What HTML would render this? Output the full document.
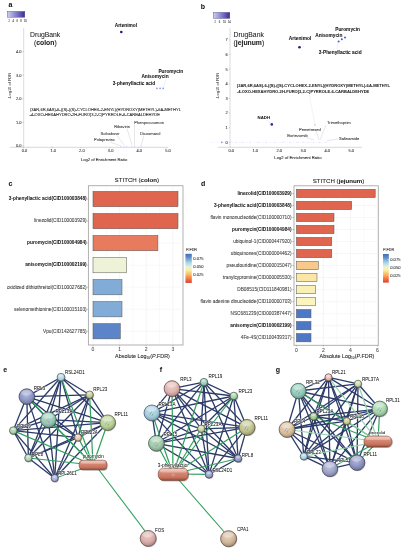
<!DOCTYPE html>
<html><head><meta charset="utf-8"><title>Figure</title>
<style>
html,body{margin:0;padding:0;background:#fff;}
svg{display:block;font-family:"Liberation Sans",sans-serif;}
</style></head><body>
<svg width="406" height="550" viewBox="0 0 406 550">
<defs>
<linearGradient id="cba" x1="0" y1="0" x2="1" y2="0"><stop offset="0" stop-color="#cfd0f2"/><stop offset="0.5" stop-color="#8480c8"/><stop offset="1" stop-color="#3a2c94"/></linearGradient>
<linearGradient id="rdylbu" x1="0" y1="0" x2="0" y2="1"><stop offset="0" stop-color="#4470b4"/><stop offset="0.12" stop-color="#5a8cc8"/><stop offset="0.3" stop-color="#a6d4ea"/><stop offset="0.45" stop-color="#e6f2dc"/><stop offset="0.56" stop-color="#fdf0a0"/><stop offset="0.72" stop-color="#fcb460"/><stop offset="0.88" stop-color="#f07040"/><stop offset="1" stop-color="#dc4030"/></linearGradient>
<radialGradient id="g1" cx="0.45" cy="0.35" r="0.7"><stop offset="0" stop-color="#cee4ed"/><stop offset="0.55" stop-color="#b4d6e4"/><stop offset="1" stop-color="#819aa4"/></radialGradient>
<radialGradient id="g2" cx="0.45" cy="0.35" r="0.7"><stop offset="0" stop-color="#b5bcdb"/><stop offset="0.55" stop-color="#8e98c8"/><stop offset="1" stop-color="#666d90"/></radialGradient>
<radialGradient id="g3" cx="0.45" cy="0.35" r="0.7"><stop offset="0" stop-color="#bcddd0"/><stop offset="0.55" stop-color="#98ccb8"/><stop offset="1" stop-color="#6d9284"/></radialGradient>
<radialGradient id="g4" cx="0.45" cy="0.35" r="0.7"><stop offset="0" stop-color="#c7e3c6"/><stop offset="0.55" stop-color="#aad4a8"/><stop offset="1" stop-color="#7a9878"/></radialGradient>
<radialGradient id="g5" cx="0.45" cy="0.35" r="0.7"><stop offset="0" stop-color="#cce5d2"/><stop offset="0.55" stop-color="#b2d8ba"/><stop offset="1" stop-color="#809b85"/></radialGradient>
<radialGradient id="g6" cx="0.45" cy="0.35" r="0.7"><stop offset="0" stop-color="#d9ddbd"/><stop offset="0.55" stop-color="#c6cc9a"/><stop offset="1" stop-color="#8e926e"/></radialGradient>
<radialGradient id="g7" cx="0.45" cy="0.35" r="0.7"><stop offset="0" stop-color="#d3e1bd"/><stop offset="0.55" stop-color="#bcd29a"/><stop offset="1" stop-color="#87976e"/></radialGradient>
<radialGradient id="g8" cx="0.45" cy="0.35" r="0.7"><stop offset="0" stop-color="#f0dbca"/><stop offset="0.55" stop-color="#e8c8ae"/><stop offset="1" stop-color="#a7907d"/></radialGradient>
<radialGradient id="g9" cx="0.45" cy="0.35" r="0.7"><stop offset="0" stop-color="#c7cbe6"/><stop offset="0.55" stop-color="#aab0da"/><stop offset="1" stop-color="#7a7e9c"/></radialGradient>
<linearGradient id="pill" x1="0" y1="0" x2="0" y2="1"><stop offset="0" stop-color="#efc2b4"/><stop offset="0.3" stop-color="#d98c78"/><stop offset="0.75" stop-color="#c8735e"/><stop offset="1" stop-color="#93503f"/></linearGradient>
<radialGradient id="g11" cx="0.45" cy="0.35" r="0.7"><stop offset="0" stop-color="#e8cac7"/><stop offset="0.55" stop-color="#dcaeaa"/><stop offset="1" stop-color="#9e7d7a"/></radialGradient>
<radialGradient id="g12" cx="0.45" cy="0.35" r="0.7"><stop offset="0" stop-color="#eccecb"/><stop offset="0.55" stop-color="#e2b4b0"/><stop offset="1" stop-color="#a2817e"/></radialGradient>
<radialGradient id="g13" cx="0.45" cy="0.35" r="0.7"><stop offset="0" stop-color="#c1ddd4"/><stop offset="0.55" stop-color="#a0ccbe"/><stop offset="1" stop-color="#739288"/></radialGradient>
<radialGradient id="g14" cx="0.45" cy="0.35" r="0.7"><stop offset="0" stop-color="#c5dfec"/><stop offset="0.55" stop-color="#a6cee2"/><stop offset="1" stop-color="#7794a2"/></radialGradient>
<radialGradient id="g15" cx="0.45" cy="0.35" r="0.7"><stop offset="0" stop-color="#c1ddc9"/><stop offset="0.55" stop-color="#a0ccac"/><stop offset="1" stop-color="#73927b"/></radialGradient>
<radialGradient id="g16" cx="0.45" cy="0.35" r="0.7"><stop offset="0" stop-color="#dbe3c3"/><stop offset="0.55" stop-color="#c8d4a4"/><stop offset="1" stop-color="#909876"/></radialGradient>
<radialGradient id="g17" cx="0.45" cy="0.35" r="0.7"><stop offset="0" stop-color="#c5e3c9"/><stop offset="0.55" stop-color="#a6d4ac"/><stop offset="1" stop-color="#77987b"/></radialGradient>
<radialGradient id="g18" cx="0.45" cy="0.35" r="0.7"><stop offset="0" stop-color="#d8d8b6"/><stop offset="0.55" stop-color="#c4c490"/><stop offset="1" stop-color="#8d8d67"/></radialGradient>
<radialGradient id="g19" cx="0.45" cy="0.35" r="0.7"><stop offset="0" stop-color="#babedc"/><stop offset="0.55" stop-color="#969cca"/><stop offset="1" stop-color="#6c7091"/></radialGradient>
<radialGradient id="g20" cx="0.45" cy="0.35" r="0.7"><stop offset="0" stop-color="#bfc3e1"/><stop offset="0.55" stop-color="#9ea4d2"/><stop offset="1" stop-color="#717697"/></radialGradient>
<radialGradient id="g21" cx="0.45" cy="0.35" r="0.7"><stop offset="0" stop-color="#e3d0be"/><stop offset="0.55" stop-color="#d4b89c"/><stop offset="1" stop-color="#988470"/></radialGradient>
<radialGradient id="g22" cx="0.45" cy="0.35" r="0.7"><stop offset="0" stop-color="#f1d2cc"/><stop offset="0.55" stop-color="#eabab2"/><stop offset="1" stop-color="#a88580"/></radialGradient>
<radialGradient id="g23" cx="0.45" cy="0.35" r="0.7"><stop offset="0" stop-color="#b8ddd4"/><stop offset="0.55" stop-color="#92ccbe"/><stop offset="1" stop-color="#699288"/></radialGradient>
<radialGradient id="g24" cx="0.45" cy="0.35" r="0.7"><stop offset="0" stop-color="#c5ddb8"/><stop offset="0.55" stop-color="#a6cc92"/><stop offset="1" stop-color="#779269"/></radialGradient>
<radialGradient id="g25" cx="0.45" cy="0.35" r="0.7"><stop offset="0" stop-color="#e8d6c1"/><stop offset="0.55" stop-color="#dcc0a0"/><stop offset="1" stop-color="#9e8a73"/></radialGradient>
<radialGradient id="g26" cx="0.45" cy="0.35" r="0.7"><stop offset="0" stop-color="#c9e4ed"/><stop offset="0.55" stop-color="#acd6e4"/><stop offset="1" stop-color="#7b9aa4"/></radialGradient>
<radialGradient id="g27" cx="0.45" cy="0.35" r="0.7"><stop offset="0" stop-color="#c1c5dd"/><stop offset="0.55" stop-color="#a0a6cc"/><stop offset="1" stop-color="#737792"/></radialGradient>
<radialGradient id="g28" cx="0.45" cy="0.35" r="0.7"><stop offset="0" stop-color="#dde6c7"/><stop offset="0.55" stop-color="#ccdaaa"/><stop offset="1" stop-color="#929c7a"/></radialGradient>
<radialGradient id="g29" cx="0.45" cy="0.35" r="0.7"><stop offset="0" stop-color="#c7e5cc"/><stop offset="0.55" stop-color="#aad8b2"/><stop offset="1" stop-color="#7a9b80"/></radialGradient>
<radialGradient id="g30" cx="0.45" cy="0.35" r="0.7"><stop offset="0" stop-color="#ddddb6"/><stop offset="0.55" stop-color="#cccc90"/><stop offset="1" stop-color="#929267"/></radialGradient>
<radialGradient id="g31" cx="0.45" cy="0.35" r="0.7"><stop offset="0" stop-color="#b6bad9"/><stop offset="0.55" stop-color="#9096c6"/><stop offset="1" stop-color="#676c8e"/></radialGradient>
</defs>
<rect width="406" height="550" fill="#fff"/>
<text x="8.6" y="6.8" font-size="7" font-weight="bold" text-anchor="start" fill="#111" stroke="#111" stroke-width="0.042">a</text>
<rect x="7.3" y="11.4" width="17.5" height="5.8" fill="url(#cba)" stroke="#4a4490" stroke-width="0.4"/>
<text x="9.2" y="22.2" font-size="2.7" font-weight="normal" text-anchor="middle" fill="#444" stroke="#444" stroke-width="0.07">2</text>
<text x="13.2" y="22.2" font-size="2.7" font-weight="normal" text-anchor="middle" fill="#444" stroke="#444" stroke-width="0.07">4</text>
<text x="17.2" y="22.2" font-size="2.7" font-weight="normal" text-anchor="middle" fill="#444" stroke="#444" stroke-width="0.07">6</text>
<text x="21" y="22.2" font-size="2.7" font-weight="normal" text-anchor="middle" fill="#444" stroke="#444" stroke-width="0.07">8</text>
<text x="25.2" y="22.2" font-size="2.7" font-weight="normal" text-anchor="middle" fill="#444" stroke="#444" stroke-width="0.07">10</text>
<line x1="23.7" y1="28" x2="23.7" y2="147.3" stroke="#c4c4c4" stroke-width="0.6"/>
<line x1="10" y1="147.3" x2="167.6" y2="147.3" stroke="#bdbdbd" stroke-width="0.6"/>
<text x="21.6" y="147.45" font-size="4.0" font-weight="normal" text-anchor="end" fill="#333" stroke="#333" stroke-width="0.07">0.0</text>
<line x1="22.3" y1="146.0" x2="23.7" y2="146.0" stroke="#999" stroke-width="0.4"/>
<text x="21.6" y="123.85000000000001" font-size="4.0" font-weight="normal" text-anchor="end" fill="#333" stroke="#333" stroke-width="0.07">1.0</text>
<line x1="22.3" y1="122.4" x2="23.7" y2="122.4" stroke="#999" stroke-width="0.4"/>
<text x="21.6" y="100.25" font-size="4.0" font-weight="normal" text-anchor="end" fill="#333" stroke="#333" stroke-width="0.07">2.0</text>
<line x1="22.3" y1="98.8" x2="23.7" y2="98.8" stroke="#999" stroke-width="0.4"/>
<text x="21.6" y="76.64999999999999" font-size="4.0" font-weight="normal" text-anchor="end" fill="#333" stroke="#333" stroke-width="0.07">3.0</text>
<line x1="22.3" y1="75.19999999999999" x2="23.7" y2="75.19999999999999" stroke="#999" stroke-width="0.4"/>
<text x="21.6" y="53.05" font-size="4.0" font-weight="normal" text-anchor="end" fill="#333" stroke="#333" stroke-width="0.07">4.0</text>
<line x1="22.3" y1="51.599999999999994" x2="23.7" y2="51.599999999999994" stroke="#999" stroke-width="0.4"/>
<text x="24.5" y="152.1" font-size="4.0" font-weight="normal" text-anchor="middle" fill="#333" stroke="#333" stroke-width="0.07">0.0</text>
<line x1="23.5" y1="147.3" x2="23.5" y2="148.4" stroke="#999" stroke-width="0.4"/>
<text x="53.2" y="152.1" font-size="4.0" font-weight="normal" text-anchor="middle" fill="#333" stroke="#333" stroke-width="0.07">1.0</text>
<line x1="52.2" y1="147.3" x2="52.2" y2="148.4" stroke="#999" stroke-width="0.4"/>
<text x="81.9" y="152.1" font-size="4.0" font-weight="normal" text-anchor="middle" fill="#333" stroke="#333" stroke-width="0.07">2.0</text>
<line x1="80.9" y1="147.3" x2="80.9" y2="148.4" stroke="#999" stroke-width="0.4"/>
<text x="110.6" y="152.1" font-size="4.0" font-weight="normal" text-anchor="middle" fill="#333" stroke="#333" stroke-width="0.07">3.0</text>
<line x1="109.6" y1="147.3" x2="109.6" y2="148.4" stroke="#999" stroke-width="0.4"/>
<text x="139.3" y="152.1" font-size="4.0" font-weight="normal" text-anchor="middle" fill="#333" stroke="#333" stroke-width="0.07">4.0</text>
<line x1="138.3" y1="147.3" x2="138.3" y2="148.4" stroke="#999" stroke-width="0.4"/>
<text x="168.0" y="152.1" font-size="4.0" font-weight="normal" text-anchor="middle" fill="#333" stroke="#333" stroke-width="0.07">5.0</text>
<line x1="167.0" y1="147.3" x2="167.0" y2="148.4" stroke="#999" stroke-width="0.4"/>
<text x="104.1" y="161.3" font-size="4.1" font-weight="normal" text-anchor="middle" fill="#222" stroke="#222" stroke-width="0.07">Log2 of Enrichment Ratio</text>
<text transform="translate(10.8,86) rotate(-90)" font-size="4.0" text-anchor="middle" fill="#222">-Log10 of FDR</text>
<text x="30" y="36.7" font-size="6.8" font-weight="normal" text-anchor="start" fill="#222" stroke="#222" stroke-width="0.07">DrugBank</text>
<text x="34" y="44.5" font-size="6.8" font-weight="normal" text-anchor="start" fill="#222" stroke="#222" stroke-width="0.07">(<tspan font-weight="bold">colon</tspan>)</text>
<text x="125.9" y="27.0" font-size="4.8" font-weight="bold" text-anchor="middle" fill="#111" stroke="#111" stroke-width="0.042">Artenimol</text>
<circle cx="121.3" cy="32" r="1.3" fill="#1d1a8c"/>
<text x="158.4" y="73" font-size="4.8" font-weight="bold" text-anchor="start" fill="#111" stroke="#111" stroke-width="0.042">Puromycin</text>
<text x="141.4" y="77.8" font-size="4.8" font-weight="bold" text-anchor="start" fill="#111" stroke="#111" stroke-width="0.042">Anisomycin</text>
<text x="112.7" y="85.1" font-size="4.75" font-weight="bold" text-anchor="start" fill="#111" stroke="#111" stroke-width="0.042">3-phenyllactic acid</text>
<circle cx="156.9" cy="88.4" r="0.8" fill="#7f8fe6"/>
<circle cx="160.1" cy="88.4" r="0.8" fill="#7f8fe6"/>
<circle cx="163.2" cy="88.4" r="0.8" fill="#7f8fe6"/>
<line x1="163.3" y1="88" x2="166" y2="79" stroke="#ccc" stroke-width="0.3"/>
<text x="30" y="111.0" font-size="4.07" font-weight="normal" text-anchor="start" fill="#222" stroke="#222" stroke-width="0.07">(3AR,6R,6AS)-6-((S)-((S)-CYCLOHEX-2-ENYL)(HYDROXY)METHYL)-6A-METHYL</text>
<text x="29.6" y="115.7" font-size="4.07" font-weight="normal" text-anchor="start" fill="#222" stroke="#222" stroke-width="0.07">-4-OXO-HEXAHYDRO-2H-FURO[3,2-C]PYRROLE-6-CARBALDEHYDE</text>
<text x="134.3" y="124.2" font-size="4.05" font-weight="normal" text-anchor="start" fill="#333" stroke="#333" stroke-width="0.07">Phenprocoumon</text>
<text x="114.3" y="127.5" font-size="4.05" font-weight="normal" text-anchor="start" fill="#333" stroke="#333" stroke-width="0.07">Ribavirin</text>
<text x="100.5" y="134.8" font-size="4.05" font-weight="normal" text-anchor="start" fill="#333" stroke="#333" stroke-width="0.07">Sofosbuvir</text>
<text x="140" y="134.6" font-size="4.05" font-weight="normal" text-anchor="start" fill="#333" stroke="#333" stroke-width="0.07">Dicoumarol</text>
<text x="94" y="141.1" font-size="4.05" font-weight="normal" text-anchor="start" fill="#333" stroke="#333" stroke-width="0.07">Polaprezinc</text>
<line x1="134.5" y1="124.5" x2="134.5" y2="146" stroke="#c2c2c2" stroke-width="0.4"/>
<line x1="127" y1="128.5" x2="132" y2="145" stroke="#c2c2c2" stroke-width="0.4"/>
<line x1="117" y1="135.5" x2="124" y2="145" stroke="#c2c2c2" stroke-width="0.4"/>
<line x1="144" y1="135.5" x2="141" y2="146" stroke="#c2c2c2" stroke-width="0.4"/>
<line x1="110" y1="142" x2="121" y2="146" stroke="#c2c2c2" stroke-width="0.4"/>
<circle cx="52" cy="146.2" r="0.5" fill="#c9cdf2"/>
<circle cx="121" cy="146.2" r="0.5" fill="#c9cdf2"/>
<circle cx="124" cy="146.2" r="0.5" fill="#c9cdf2"/>
<circle cx="126.5" cy="146.2" r="0.5" fill="#c9cdf2"/>
<circle cx="132" cy="146.2" r="0.5" fill="#c9cdf2"/>
<circle cx="134.5" cy="146.2" r="0.5" fill="#c9cdf2"/>
<circle cx="141" cy="146.2" r="0.5" fill="#c9cdf2"/>
<text x="200.8" y="8.8" font-size="7" font-weight="bold" text-anchor="start" fill="#111" stroke="#111" stroke-width="0.042">b</text>
<rect x="213.2" y="12.4" width="16.6" height="6.0" fill="url(#cba)" stroke="#4a4490" stroke-width="0.4"/>
<text x="215.2" y="23.3" font-size="2.7" font-weight="normal" text-anchor="middle" fill="#444" stroke="#444" stroke-width="0.07">2</text>
<text x="219.6" y="23.3" font-size="2.7" font-weight="normal" text-anchor="middle" fill="#444" stroke="#444" stroke-width="0.07">6</text>
<text x="224.4" y="23.3" font-size="2.7" font-weight="normal" text-anchor="middle" fill="#444" stroke="#444" stroke-width="0.07">10</text>
<text x="229.3" y="23.3" font-size="2.7" font-weight="normal" text-anchor="middle" fill="#444" stroke="#444" stroke-width="0.07">14</text>
<line x1="230" y1="28" x2="230" y2="147.3" stroke="#c4c4c4" stroke-width="0.6"/>
<line x1="218" y1="147.3" x2="362" y2="147.3" stroke="#bdbdbd" stroke-width="0.6"/>
<line x1="210" y1="142.4" x2="330" y2="142.4" stroke="#c8ccf0" stroke-width="0.4" stroke-dasharray="0.6 1.6"/>
<text x="227.8" y="143.75" font-size="4.0" font-weight="normal" text-anchor="end" fill="#333" stroke="#333" stroke-width="0.07">0</text>
<line x1="228.8" y1="142.3" x2="230" y2="142.3" stroke="#999" stroke-width="0.4"/>
<text x="227.8" y="129.12" font-size="4.0" font-weight="normal" text-anchor="end" fill="#333" stroke="#333" stroke-width="0.07">1</text>
<line x1="228.8" y1="127.67000000000002" x2="230" y2="127.67000000000002" stroke="#999" stroke-width="0.4"/>
<text x="227.8" y="114.49000000000001" font-size="4.0" font-weight="normal" text-anchor="end" fill="#333" stroke="#333" stroke-width="0.07">2</text>
<line x1="228.8" y1="113.04" x2="230" y2="113.04" stroke="#999" stroke-width="0.4"/>
<text x="227.8" y="99.86000000000001" font-size="4.0" font-weight="normal" text-anchor="end" fill="#333" stroke="#333" stroke-width="0.07">3</text>
<line x1="228.8" y1="98.41000000000001" x2="230" y2="98.41000000000001" stroke="#999" stroke-width="0.4"/>
<text x="227.8" y="85.23" font-size="4.0" font-weight="normal" text-anchor="end" fill="#333" stroke="#333" stroke-width="0.07">4</text>
<line x1="228.8" y1="83.78" x2="230" y2="83.78" stroke="#999" stroke-width="0.4"/>
<text x="227.8" y="70.60000000000001" font-size="4.0" font-weight="normal" text-anchor="end" fill="#333" stroke="#333" stroke-width="0.07">5</text>
<line x1="228.8" y1="69.15" x2="230" y2="69.15" stroke="#999" stroke-width="0.4"/>
<text x="227.8" y="55.97000000000001" font-size="4.0" font-weight="normal" text-anchor="end" fill="#333" stroke="#333" stroke-width="0.07">6</text>
<line x1="228.8" y1="54.52000000000001" x2="230" y2="54.52000000000001" stroke="#999" stroke-width="0.4"/>
<text x="227.8" y="41.34" font-size="4.0" font-weight="normal" text-anchor="end" fill="#333" stroke="#333" stroke-width="0.07">7</text>
<line x1="228.8" y1="39.89" x2="230" y2="39.89" stroke="#999" stroke-width="0.4"/>
<text x="231.3" y="151.75" font-size="4.0" font-weight="normal" text-anchor="middle" fill="#333" stroke="#333" stroke-width="0.07">0.0</text>
<text x="255.3" y="151.75" font-size="4.0" font-weight="normal" text-anchor="middle" fill="#333" stroke="#333" stroke-width="0.07">1.0</text>
<text x="279.3" y="151.75" font-size="4.0" font-weight="normal" text-anchor="middle" fill="#333" stroke="#333" stroke-width="0.07">2.0</text>
<text x="303.3" y="151.75" font-size="4.0" font-weight="normal" text-anchor="middle" fill="#333" stroke="#333" stroke-width="0.07">3.0</text>
<text x="327.3" y="151.75" font-size="4.0" font-weight="normal" text-anchor="middle" fill="#333" stroke="#333" stroke-width="0.07">4.0</text>
<text x="351.3" y="151.75" font-size="4.0" font-weight="normal" text-anchor="middle" fill="#333" stroke="#333" stroke-width="0.07">5.0</text>
<text x="298" y="158.8" font-size="4.2" font-weight="normal" text-anchor="middle" fill="#222" stroke="#222" stroke-width="0.07">Log2 of Enrichment Ratio</text>
<text transform="translate(219.2,86) rotate(-90)" font-size="4.0" text-anchor="middle" fill="#222">-Log10 of FDR</text>
<text x="233.6" y="36.8" font-size="6.8" font-weight="normal" text-anchor="start" fill="#222" stroke="#222" stroke-width="0.07">DrugBank</text>
<text x="233.6" y="44.9" font-size="6.8" font-weight="normal" text-anchor="start" fill="#222" stroke="#222" stroke-width="0.07">(<tspan font-weight="bold">jejunum</tspan>)</text>
<text x="300" y="40.3" font-size="4.8" font-weight="bold" text-anchor="middle" fill="#111" stroke="#111" stroke-width="0.042">Artenimol</text>
<circle cx="299.5" cy="47.2" r="1.3" fill="#1d1a8c"/>
<text x="335.2" y="31.1" font-size="4.8" font-weight="bold" text-anchor="start" fill="#111" stroke="#111" stroke-width="0.042">Puromycin</text>
<text x="315.2" y="36.9" font-size="4.8" font-weight="bold" text-anchor="start" fill="#111" stroke="#111" stroke-width="0.042">Anisomycin</text>
<text x="318.8" y="53.8" font-size="4.75" font-weight="bold" text-anchor="start" fill="#111" stroke="#111" stroke-width="0.042">3-Phenyllactic acid</text>
<circle cx="338.6" cy="41.4" r="1" fill="#4a56e0"/>
<circle cx="341.8" cy="39.2" r="1" fill="#4a56e0"/>
<circle cx="345" cy="37.5" r="1" fill="#4a56e0"/>
<line x1="338.3" y1="42" x2="337" y2="49" stroke="#ccc" stroke-width="0.3"/>
<text x="236.8" y="86.8" font-size="4.08" font-weight="bold" text-anchor="start" fill="#222" stroke="#222" stroke-width="0.042">(3AR,6R,6AS)-6-((S)-((S)-CYCLOHEX-2-ENYL)(HYDROXY)METHYL)-6A-METHYL</text>
<text x="236.8" y="92.7" font-size="4.08" font-weight="bold" text-anchor="start" fill="#222" stroke="#222" stroke-width="0.042">-4-OXO-HEXAHYDRO-2H-FURO[3,2-C]PYRROLE-6-CARBALDEHYDE</text>
<line x1="309" y1="94" x2="315" y2="124.5" stroke="#d6d6e6" stroke-width="0.3"/>
<text x="263.8" y="119.2" font-size="4.3" font-weight="bold" text-anchor="middle" fill="#111" stroke="#111" stroke-width="0.042">NADH</text>
<circle cx="271.8" cy="124.4" r="1.3" fill="#2a2aa8"/>
<line x1="266" y1="120" x2="271" y2="123.5" stroke="#ccc" stroke-width="0.3"/>
<text x="299" y="130.6" font-size="4.05" font-weight="normal" text-anchor="start" fill="#333" stroke="#333" stroke-width="0.07">Pemetrexed</text>
<text x="327" y="124.2" font-size="4.05" font-weight="normal" text-anchor="start" fill="#333" stroke="#333" stroke-width="0.07">Trimethoprim</text>
<text x="287.3" y="136.8" font-size="4.05" font-weight="normal" text-anchor="start" fill="#333" stroke="#333" stroke-width="0.07">Bortezomib</text>
<text x="339" y="139.8" font-size="4.05" font-weight="normal" text-anchor="start" fill="#333" stroke="#333" stroke-width="0.07">Safinamide</text>
<circle cx="315" cy="125" r="0.8" fill="#b8b8ec"/>
<circle cx="221.8" cy="142.4" r="0.8" fill="#8088dc"/>
<line x1="326" y1="125" x2="320" y2="140" stroke="#c2c2c2" stroke-width="0.4"/>
<line x1="316" y1="131" x2="319" y2="140" stroke="#c2c2c2" stroke-width="0.4"/>
<line x1="338" y1="139" x2="327" y2="140.5" stroke="#c2c2c2" stroke-width="0.4"/>
<line x1="306" y1="137.5" x2="314" y2="140" stroke="#c2c2c2" stroke-width="0.4"/>
<circle cx="236" cy="142.2" r="0.5" fill="#cdd0f4"/>
<circle cx="242" cy="142.2" r="0.5" fill="#cdd0f4"/>
<circle cx="250" cy="142.2" r="0.5" fill="#cdd0f4"/>
<circle cx="258" cy="142.2" r="0.5" fill="#cdd0f4"/>
<circle cx="266" cy="142.2" r="0.5" fill="#cdd0f4"/>
<circle cx="275" cy="142.2" r="0.5" fill="#cdd0f4"/>
<circle cx="283" cy="142.2" r="0.5" fill="#cdd0f4"/>
<circle cx="290" cy="142.2" r="0.5" fill="#cdd0f4"/>
<circle cx="297" cy="142.2" r="0.5" fill="#cdd0f4"/>
<circle cx="303" cy="142.2" r="0.5" fill="#cdd0f4"/>
<circle cx="308" cy="142.2" r="0.5" fill="#cdd0f4"/>
<circle cx="314" cy="142.2" r="0.5" fill="#cdd0f4"/>
<circle cx="319.6" cy="142.2" r="0.5" fill="#cdd0f4"/>
<circle cx="326" cy="142.2" r="0.5" fill="#cdd0f4"/>
<text x="8.5" y="186.3" font-size="7" font-weight="bold" text-anchor="start" fill="#111" stroke="#111" stroke-width="0.042">c</text>
<rect x="88.4" y="185.7" width="94.6" height="159.3" fill="#fff" stroke="#a8a8a8" stroke-width="0.9"/>
<line x1="93.0" y1="186.1" x2="93.0" y2="344.6" stroke="#ececec" stroke-width="0.5"/>
<line x1="106.3" y1="186.1" x2="106.3" y2="344.6" stroke="#ececec" stroke-width="0.3"/>
<line x1="119.6" y1="186.1" x2="119.6" y2="344.6" stroke="#ececec" stroke-width="0.5"/>
<line x1="132.9" y1="186.1" x2="132.9" y2="344.6" stroke="#ececec" stroke-width="0.3"/>
<line x1="146.2" y1="186.1" x2="146.2" y2="344.6" stroke="#ececec" stroke-width="0.5"/>
<line x1="159.5" y1="186.1" x2="159.5" y2="344.6" stroke="#ececec" stroke-width="0.3"/>
<line x1="172.8" y1="186.1" x2="172.8" y2="344.6" stroke="#ececec" stroke-width="0.5"/>
<text x="136.8" y="182.0" font-size="6.15" font-weight="normal" text-anchor="middle" fill="#222" stroke="#222" stroke-width="0.07">STITCH (<tspan font-weight="bold">colon</tspan>)</text>
<line x1="93" y1="199.1" x2="183" y2="199.1" stroke="#ececec" stroke-width="0.4"/>
<line x1="93" y1="221.13" x2="183" y2="221.13" stroke="#ececec" stroke-width="0.4"/>
<line x1="93" y1="243.16" x2="183" y2="243.16" stroke="#ececec" stroke-width="0.4"/>
<line x1="93" y1="265.19" x2="183" y2="265.19" stroke="#ececec" stroke-width="0.4"/>
<line x1="93" y1="287.21999999999997" x2="183" y2="287.21999999999997" stroke="#ececec" stroke-width="0.4"/>
<line x1="93" y1="309.25" x2="183" y2="309.25" stroke="#ececec" stroke-width="0.4"/>
<line x1="93" y1="331.28000000000003" x2="183" y2="331.28000000000003" stroke="#ececec" stroke-width="0.4"/>
<rect x="93" y="191.4" width="85" height="15.3" fill="#e0654e" stroke="#555" stroke-width="0.5"/>
<line x1="87.2" y1="199.1" x2="88.4" y2="199.1" stroke="#666" stroke-width="0.4"/>
<text x="86.7" y="200.4" font-size="4.77" font-weight="bold" text-anchor="end" fill="#1a1a1a" stroke="#1a1a1a" stroke-width="0.042">3-phenyllactic acid(CID100003848)</text>
<rect x="93" y="213.43" width="85" height="15.3" fill="#e0654e" stroke="#555" stroke-width="0.5"/>
<line x1="87.2" y1="221.13" x2="88.4" y2="221.13" stroke="#666" stroke-width="0.4"/>
<text x="86.7" y="222.43" font-size="4.77" font-weight="normal" text-anchor="end" fill="#404040" stroke="#404040" stroke-width="0.07">linezolid(CID100003929)</text>
<rect x="93" y="235.46" width="64.9" height="15.3" fill="#e87a5e" stroke="#555" stroke-width="0.5"/>
<line x1="87.2" y1="243.16" x2="88.4" y2="243.16" stroke="#666" stroke-width="0.4"/>
<text x="86.7" y="244.46" font-size="4.77" font-weight="bold" text-anchor="end" fill="#1a1a1a" stroke="#1a1a1a" stroke-width="0.042">puromycin(CID100004984)</text>
<rect x="93" y="257.49" width="33.599999999999994" height="15.3" fill="#eef2d6" stroke="#555" stroke-width="0.5"/>
<line x1="87.2" y1="265.19" x2="88.4" y2="265.19" stroke="#666" stroke-width="0.4"/>
<text x="86.7" y="266.49" font-size="4.77" font-weight="bold" text-anchor="end" fill="#1a1a1a" stroke="#1a1a1a" stroke-width="0.042">anisomycin(CID100002199)</text>
<rect x="93" y="279.52" width="29" height="15.3" fill="#82acd8" stroke="#555" stroke-width="0.5"/>
<line x1="87.2" y1="287.21999999999997" x2="88.4" y2="287.21999999999997" stroke="#666" stroke-width="0.4"/>
<text x="86.7" y="288.52" font-size="4.77" font-weight="normal" text-anchor="end" fill="#404040" stroke="#404040" stroke-width="0.07">oxidized dithiothreitol(CID100027682)</text>
<rect x="93" y="301.55" width="29" height="15.3" fill="#82acd8" stroke="#555" stroke-width="0.5"/>
<line x1="87.2" y1="309.25" x2="88.4" y2="309.25" stroke="#666" stroke-width="0.4"/>
<text x="86.7" y="310.55" font-size="4.77" font-weight="normal" text-anchor="end" fill="#404040" stroke="#404040" stroke-width="0.07">selenomethionine(CID100015103)</text>
<rect x="93" y="323.58000000000004" width="27.299999999999997" height="15.3" fill="#5c84c8" stroke="#555" stroke-width="0.5"/>
<line x1="87.2" y1="331.28000000000003" x2="88.4" y2="331.28000000000003" stroke="#666" stroke-width="0.4"/>
<text x="86.7" y="332.58000000000004" font-size="4.77" font-weight="normal" text-anchor="end" fill="#404040" stroke="#404040" stroke-width="0.07">Vpu(CID142627785)</text>
<line x1="93.0" y1="345" x2="93.0" y2="346.2" stroke="#666" stroke-width="0.4"/>
<text x="93.0" y="351.4" font-size="5.0" font-weight="normal" text-anchor="middle" fill="#4d4d4d" stroke="#4d4d4d" stroke-width="0.07">0</text>
<line x1="119.6" y1="345" x2="119.6" y2="346.2" stroke="#666" stroke-width="0.4"/>
<text x="119.6" y="351.4" font-size="5.0" font-weight="normal" text-anchor="middle" fill="#4d4d4d" stroke="#4d4d4d" stroke-width="0.07">1</text>
<line x1="146.2" y1="345" x2="146.2" y2="346.2" stroke="#666" stroke-width="0.4"/>
<text x="146.2" y="351.4" font-size="5.0" font-weight="normal" text-anchor="middle" fill="#4d4d4d" stroke="#4d4d4d" stroke-width="0.07">2</text>
<line x1="172.8" y1="345" x2="172.8" y2="346.2" stroke="#666" stroke-width="0.4"/>
<text x="172.8" y="351.4" font-size="5.0" font-weight="normal" text-anchor="middle" fill="#4d4d4d" stroke="#4d4d4d" stroke-width="0.07">3</text>
<text x="142.5" y="357.6" font-size="5.4" font-weight="normal" text-anchor="middle" fill="#222" stroke="#222" stroke-width="0.07">Absolute Log<tspan font-size="3.2" dy="1">10</tspan><tspan dy="-1">(</tspan><tspan font-style="italic">P</tspan>.FDR)</text>
<rect x="185.4" y="253.8" width="6.400000000000006" height="29.099999999999966" fill="url(#rdylbu)"/>
<text x="185.9" y="251.0" font-size="3.7" font-weight="normal" text-anchor="start" fill="#222" stroke="#222" stroke-width="0.07"><tspan font-style="italic">P</tspan>.FDR</text>
<text x="193.3" y="259.65" font-size="4.1" font-weight="normal" text-anchor="start" fill="#333" stroke="#333" stroke-width="0.07">0.075</text>
<line x1="185.4" y1="258.2" x2="186.6" y2="258.2" stroke="#fff" stroke-width="0.3"/>
<line x1="190.60000000000002" y1="258.2" x2="191.8" y2="258.2" stroke="#fff" stroke-width="0.3"/>
<text x="193.3" y="267.84999999999997" font-size="4.1" font-weight="normal" text-anchor="start" fill="#333" stroke="#333" stroke-width="0.07">0.050</text>
<line x1="185.4" y1="266.4" x2="186.6" y2="266.4" stroke="#fff" stroke-width="0.3"/>
<line x1="190.60000000000002" y1="266.4" x2="191.8" y2="266.4" stroke="#fff" stroke-width="0.3"/>
<text x="193.3" y="275.95" font-size="4.1" font-weight="normal" text-anchor="start" fill="#333" stroke="#333" stroke-width="0.07">0.025</text>
<line x1="185.4" y1="274.5" x2="186.6" y2="274.5" stroke="#fff" stroke-width="0.3"/>
<line x1="190.60000000000002" y1="274.5" x2="191.8" y2="274.5" stroke="#fff" stroke-width="0.3"/>
<text x="201.1" y="186.2" font-size="7" font-weight="bold" text-anchor="start" fill="#111" stroke="#111" stroke-width="0.042">d</text>
<rect x="294" y="185.8" width="84.30000000000001" height="159.5" fill="#fff" stroke="#a8a8a8" stroke-width="0.9"/>
<line x1="296.4" y1="186.20000000000002" x2="296.4" y2="344.90000000000003" stroke="#ececec" stroke-width="0.5"/>
<line x1="309.9" y1="186.20000000000002" x2="309.9" y2="344.90000000000003" stroke="#ececec" stroke-width="0.3"/>
<line x1="323.4" y1="186.20000000000002" x2="323.4" y2="344.90000000000003" stroke="#ececec" stroke-width="0.5"/>
<line x1="336.9" y1="186.20000000000002" x2="336.9" y2="344.90000000000003" stroke="#ececec" stroke-width="0.3"/>
<line x1="350.4" y1="186.20000000000002" x2="350.4" y2="344.90000000000003" stroke="#ececec" stroke-width="0.5"/>
<line x1="363.9" y1="186.20000000000002" x2="363.9" y2="344.90000000000003" stroke="#ececec" stroke-width="0.3"/>
<line x1="377.4" y1="186.20000000000002" x2="377.4" y2="344.90000000000003" stroke="#ececec" stroke-width="0.5"/>
<text x="338.5" y="182.6" font-size="6.15" font-weight="normal" text-anchor="middle" fill="#222" stroke="#222" stroke-width="0.07">STITCH (<tspan font-weight="bold">jejunum</tspan>)</text>
<line x1="296.4" y1="193.45000000000002" x2="378.3" y2="193.45000000000002" stroke="#ececec" stroke-width="0.4"/>
<line x1="296.4" y1="205.47000000000003" x2="378.3" y2="205.47000000000003" stroke="#ececec" stroke-width="0.4"/>
<line x1="296.4" y1="217.49" x2="378.3" y2="217.49" stroke="#ececec" stroke-width="0.4"/>
<line x1="296.4" y1="229.51000000000002" x2="378.3" y2="229.51000000000002" stroke="#ececec" stroke-width="0.4"/>
<line x1="296.4" y1="241.53" x2="378.3" y2="241.53" stroke="#ececec" stroke-width="0.4"/>
<line x1="296.4" y1="253.55" x2="378.3" y2="253.55" stroke="#ececec" stroke-width="0.4"/>
<line x1="296.4" y1="265.57" x2="378.3" y2="265.57" stroke="#ececec" stroke-width="0.4"/>
<line x1="296.4" y1="277.59" x2="378.3" y2="277.59" stroke="#ececec" stroke-width="0.4"/>
<line x1="296.4" y1="289.61" x2="378.3" y2="289.61" stroke="#ececec" stroke-width="0.4"/>
<line x1="296.4" y1="301.63" x2="378.3" y2="301.63" stroke="#ececec" stroke-width="0.4"/>
<line x1="296.4" y1="313.65" x2="378.3" y2="313.65" stroke="#ececec" stroke-width="0.4"/>
<line x1="296.4" y1="325.66999999999996" x2="378.3" y2="325.66999999999996" stroke="#ececec" stroke-width="0.4"/>
<line x1="296.4" y1="337.69" x2="378.3" y2="337.69" stroke="#ececec" stroke-width="0.4"/>
<rect x="296.4" y="189.3" width="78.80000000000001" height="8.3" fill="#e0654e" stroke="#555" stroke-width="0.5"/>
<line x1="292.4" y1="193.45000000000002" x2="294" y2="193.45000000000002" stroke="#666" stroke-width="0.4"/>
<text x="291.5" y="195.0" font-size="4.75" font-weight="bold" text-anchor="end" fill="#1a1a1a" stroke="#1a1a1a" stroke-width="0.042">linezolid(CID100003929)</text>
<rect x="296.4" y="201.32000000000002" width="55.30000000000001" height="8.3" fill="#e0654e" stroke="#555" stroke-width="0.5"/>
<line x1="292.4" y1="205.47000000000003" x2="294" y2="205.47000000000003" stroke="#666" stroke-width="0.4"/>
<text x="291.5" y="207.02" font-size="4.75" font-weight="bold" text-anchor="end" fill="#1a1a1a" stroke="#1a1a1a" stroke-width="0.042">3-phenyllactic acid(CID100003848)</text>
<rect x="296.4" y="213.34" width="37.60000000000002" height="8.3" fill="#e0654e" stroke="#555" stroke-width="0.5"/>
<line x1="292.4" y1="217.49" x2="294" y2="217.49" stroke="#666" stroke-width="0.4"/>
<text x="291.5" y="219.04" font-size="4.75" font-weight="normal" text-anchor="end" fill="#404040" stroke="#404040" stroke-width="0.07">flavin mononucleotide(CID100000710)</text>
<rect x="296.4" y="225.36" width="37.60000000000002" height="8.3" fill="#e0654e" stroke="#555" stroke-width="0.5"/>
<line x1="292.4" y1="229.51000000000002" x2="294" y2="229.51000000000002" stroke="#666" stroke-width="0.4"/>
<text x="291.5" y="231.06" font-size="4.75" font-weight="bold" text-anchor="end" fill="#1a1a1a" stroke="#1a1a1a" stroke-width="0.042">puromycin(CID100004984)</text>
<rect x="296.4" y="237.38" width="35.400000000000034" height="8.3" fill="#e0654e" stroke="#555" stroke-width="0.5"/>
<line x1="292.4" y1="241.53" x2="294" y2="241.53" stroke="#666" stroke-width="0.4"/>
<text x="291.5" y="243.07999999999998" font-size="4.75" font-weight="normal" text-anchor="end" fill="#404040" stroke="#404040" stroke-width="0.07">ubiquinol-1(CID000447920)</text>
<rect x="296.4" y="249.4" width="35.400000000000034" height="8.3" fill="#e0654e" stroke="#555" stroke-width="0.5"/>
<line x1="292.4" y1="253.55" x2="294" y2="253.55" stroke="#666" stroke-width="0.4"/>
<text x="291.5" y="255.1" font-size="4.75" font-weight="normal" text-anchor="end" fill="#404040" stroke="#404040" stroke-width="0.07">ubiquinones(CID000004462)</text>
<rect x="296.4" y="261.42" width="21.900000000000034" height="8.3" fill="#f9c98a" stroke="#555" stroke-width="0.5"/>
<line x1="292.4" y1="265.57" x2="294" y2="265.57" stroke="#666" stroke-width="0.4"/>
<text x="291.5" y="267.12" font-size="4.75" font-weight="normal" text-anchor="end" fill="#404040" stroke="#404040" stroke-width="0.07">pseudouridine(CID000015047)</text>
<rect x="296.4" y="273.44" width="20.600000000000023" height="8.3" fill="#fbe6a6" stroke="#555" stroke-width="0.5"/>
<line x1="292.4" y1="277.59" x2="294" y2="277.59" stroke="#666" stroke-width="0.4"/>
<text x="291.5" y="279.14" font-size="4.75" font-weight="normal" text-anchor="end" fill="#404040" stroke="#404040" stroke-width="0.07">tranylcypromine(CID000005530)</text>
<rect x="296.4" y="285.46000000000004" width="19.30000000000001" height="8.3" fill="#fbf0b4" stroke="#555" stroke-width="0.5"/>
<line x1="292.4" y1="289.61" x2="294" y2="289.61" stroke="#666" stroke-width="0.4"/>
<text x="291.5" y="291.16" font-size="4.75" font-weight="normal" text-anchor="end" fill="#404040" stroke="#404040" stroke-width="0.07">DB08515(CID111840981)</text>
<rect x="296.4" y="297.48" width="19.30000000000001" height="8.3" fill="#fbf4bc" stroke="#555" stroke-width="0.5"/>
<line x1="292.4" y1="301.63" x2="294" y2="301.63" stroke="#666" stroke-width="0.4"/>
<text x="291.5" y="303.18" font-size="4.75" font-weight="normal" text-anchor="end" fill="#404040" stroke="#404040" stroke-width="0.07">flavin adenine dinucleotide(CID100000703)</text>
<rect x="296.4" y="309.5" width="14.600000000000023" height="8.3" fill="#4d78c4" stroke="#555" stroke-width="0.5"/>
<line x1="292.4" y1="313.65" x2="294" y2="313.65" stroke="#666" stroke-width="0.4"/>
<text x="291.5" y="315.2" font-size="4.75" font-weight="normal" text-anchor="end" fill="#404040" stroke="#404040" stroke-width="0.07">NSC681239(CID000387447)</text>
<rect x="296.4" y="321.52" width="14.600000000000023" height="8.3" fill="#4d78c4" stroke="#555" stroke-width="0.5"/>
<line x1="292.4" y1="325.66999999999996" x2="294" y2="325.66999999999996" stroke="#666" stroke-width="0.4"/>
<text x="291.5" y="327.21999999999997" font-size="4.75" font-weight="bold" text-anchor="end" fill="#1a1a1a" stroke="#1a1a1a" stroke-width="0.042">anisomycin(CID100002199)</text>
<rect x="296.4" y="333.54" width="14.600000000000023" height="8.3" fill="#4d78c4" stroke="#555" stroke-width="0.5"/>
<line x1="292.4" y1="337.69" x2="294" y2="337.69" stroke="#666" stroke-width="0.4"/>
<text x="291.5" y="339.24" font-size="4.75" font-weight="normal" text-anchor="end" fill="#404040" stroke="#404040" stroke-width="0.07">4Fe-4S(CID100439317)</text>
<line x1="296.4" y1="345.3" x2="296.4" y2="346.5" stroke="#666" stroke-width="0.4"/>
<text x="296.4" y="351.8" font-size="5.0" font-weight="normal" text-anchor="middle" fill="#4d4d4d" stroke="#4d4d4d" stroke-width="0.07">0</text>
<line x1="323.4" y1="345.3" x2="323.4" y2="346.5" stroke="#666" stroke-width="0.4"/>
<text x="323.4" y="351.8" font-size="5.0" font-weight="normal" text-anchor="middle" fill="#4d4d4d" stroke="#4d4d4d" stroke-width="0.07">2</text>
<line x1="350.4" y1="345.3" x2="350.4" y2="346.5" stroke="#666" stroke-width="0.4"/>
<text x="350.4" y="351.8" font-size="5.0" font-weight="normal" text-anchor="middle" fill="#4d4d4d" stroke="#4d4d4d" stroke-width="0.07">4</text>
<line x1="377.4" y1="345.3" x2="377.4" y2="346.5" stroke="#666" stroke-width="0.4"/>
<text x="377.4" y="351.8" font-size="5.0" font-weight="normal" text-anchor="middle" fill="#4d4d4d" stroke="#4d4d4d" stroke-width="0.07">6</text>
<text x="347" y="358.3" font-size="5.4" font-weight="normal" text-anchor="middle" fill="#222" stroke="#222" stroke-width="0.07">Absolute Log<tspan font-size="3.2" dy="1">10</tspan><tspan dy="-1">(</tspan><tspan font-style="italic">P</tspan>.FDR)</text>
<rect x="383" y="254" width="5.800000000000011" height="28.600000000000023" fill="url(#rdylbu)"/>
<text x="383" y="251" font-size="3.7" font-weight="normal" text-anchor="start" fill="#222" stroke="#222" stroke-width="0.07"><tspan font-style="italic">P</tspan>.FDR</text>
<text x="390.2" y="261.15" font-size="4.1" font-weight="normal" text-anchor="start" fill="#333" stroke="#333" stroke-width="0.07">0.075</text>
<line x1="383" y1="259.7" x2="384.2" y2="259.7" stroke="#fff" stroke-width="0.3"/>
<line x1="387.6" y1="259.7" x2="388.8" y2="259.7" stroke="#fff" stroke-width="0.3"/>
<text x="390.2" y="268.95" font-size="4.1" font-weight="normal" text-anchor="start" fill="#333" stroke="#333" stroke-width="0.07">0.050</text>
<line x1="383" y1="267.5" x2="384.2" y2="267.5" stroke="#fff" stroke-width="0.3"/>
<line x1="387.6" y1="267.5" x2="388.8" y2="267.5" stroke="#fff" stroke-width="0.3"/>
<text x="390.2" y="276.75" font-size="4.1" font-weight="normal" text-anchor="start" fill="#333" stroke="#333" stroke-width="0.07">0.025</text>
<line x1="383" y1="275.3" x2="384.2" y2="275.3" stroke="#fff" stroke-width="0.3"/>
<line x1="387.6" y1="275.3" x2="388.8" y2="275.3" stroke="#fff" stroke-width="0.3"/>
<text x="3.2" y="372" font-size="7" font-weight="bold" text-anchor="start" fill="#111" stroke="#111" stroke-width="0.042">e</text>
<line x1="98.3" y1="469" x2="148" y2="535" stroke="#30a05e" stroke-width="1.1" opacity="1"/>
<line x1="61" y1="377.3" x2="26.8" y2="396.6" stroke="#2b3a68" stroke-width="1.3" opacity="1"/>
<line x1="61" y1="377.3" x2="48.4" y2="419.7" stroke="#2b3a68" stroke-width="1.3" opacity="1"/>
<line x1="61" y1="377.3" x2="13.3" y2="430.6" stroke="#2b3a68" stroke-width="1.3" opacity="1"/>
<line x1="61" y1="377.3" x2="28.4" y2="458" stroke="#2b3a68" stroke-width="1.3" opacity="1"/>
<line x1="61" y1="377.3" x2="89.6" y2="394.8" stroke="#2b3a68" stroke-width="1.3" opacity="1"/>
<line x1="61" y1="377.3" x2="107.7" y2="422.7" stroke="#2b3a68" stroke-width="1.3" opacity="1"/>
<line x1="61" y1="377.3" x2="78" y2="437.6" stroke="#2b3a68" stroke-width="1.3" opacity="1"/>
<line x1="61" y1="377.3" x2="54.7" y2="478.2" stroke="#2b3a68" stroke-width="1.3" opacity="1"/>
<line x1="26.8" y1="396.6" x2="48.4" y2="419.7" stroke="#2b3a68" stroke-width="1.3" opacity="1"/>
<line x1="26.8" y1="396.6" x2="13.3" y2="430.6" stroke="#2b3a68" stroke-width="1.3" opacity="1"/>
<line x1="26.8" y1="396.6" x2="28.4" y2="458" stroke="#2b3a68" stroke-width="1.3" opacity="1"/>
<line x1="26.8" y1="396.6" x2="89.6" y2="394.8" stroke="#2b3a68" stroke-width="1.3" opacity="1"/>
<line x1="26.8" y1="396.6" x2="107.7" y2="422.7" stroke="#2b3a68" stroke-width="1.3" opacity="1"/>
<line x1="26.8" y1="396.6" x2="78" y2="437.6" stroke="#2b3a68" stroke-width="1.3" opacity="1"/>
<line x1="26.8" y1="396.6" x2="54.7" y2="478.2" stroke="#2b3a68" stroke-width="1.3" opacity="1"/>
<line x1="48.4" y1="419.7" x2="13.3" y2="430.6" stroke="#2b3a68" stroke-width="1.3" opacity="1"/>
<line x1="48.4" y1="419.7" x2="28.4" y2="458" stroke="#2b3a68" stroke-width="1.3" opacity="1"/>
<line x1="48.4" y1="419.7" x2="89.6" y2="394.8" stroke="#2b3a68" stroke-width="1.3" opacity="1"/>
<line x1="48.4" y1="419.7" x2="107.7" y2="422.7" stroke="#2b3a68" stroke-width="1.3" opacity="1"/>
<line x1="48.4" y1="419.7" x2="78" y2="437.6" stroke="#2b3a68" stroke-width="1.3" opacity="1"/>
<line x1="48.4" y1="419.7" x2="54.7" y2="478.2" stroke="#2b3a68" stroke-width="1.3" opacity="1"/>
<line x1="13.3" y1="430.6" x2="28.4" y2="458" stroke="#2b3a68" stroke-width="1.3" opacity="1"/>
<line x1="13.3" y1="430.6" x2="89.6" y2="394.8" stroke="#2b3a68" stroke-width="1.3" opacity="1"/>
<line x1="13.3" y1="430.6" x2="107.7" y2="422.7" stroke="#2b3a68" stroke-width="1.3" opacity="1"/>
<line x1="13.3" y1="430.6" x2="78" y2="437.6" stroke="#2b3a68" stroke-width="1.3" opacity="1"/>
<line x1="13.3" y1="430.6" x2="54.7" y2="478.2" stroke="#2b3a68" stroke-width="1.3" opacity="1"/>
<line x1="28.4" y1="458" x2="89.6" y2="394.8" stroke="#2b3a68" stroke-width="1.3" opacity="1"/>
<line x1="28.4" y1="458" x2="107.7" y2="422.7" stroke="#2b3a68" stroke-width="1.3" opacity="1"/>
<line x1="28.4" y1="458" x2="78" y2="437.6" stroke="#2b3a68" stroke-width="1.3" opacity="1"/>
<line x1="28.4" y1="458" x2="54.7" y2="478.2" stroke="#2b3a68" stroke-width="1.3" opacity="1"/>
<line x1="89.6" y1="394.8" x2="107.7" y2="422.7" stroke="#2b3a68" stroke-width="1.3" opacity="1"/>
<line x1="89.6" y1="394.8" x2="78" y2="437.6" stroke="#2b3a68" stroke-width="1.3" opacity="1"/>
<line x1="89.6" y1="394.8" x2="54.7" y2="478.2" stroke="#2b3a68" stroke-width="1.3" opacity="1"/>
<line x1="107.7" y1="422.7" x2="78" y2="437.6" stroke="#2b3a68" stroke-width="1.3" opacity="1"/>
<line x1="107.7" y1="422.7" x2="54.7" y2="478.2" stroke="#2b3a68" stroke-width="1.3" opacity="1"/>
<line x1="78" y1="437.6" x2="54.7" y2="478.2" stroke="#2b3a68" stroke-width="1.3" opacity="1"/>
<line x1="61" y1="377.3" x2="93" y2="465" stroke="#30a05e" stroke-width="1.2" opacity="1"/>
<line x1="26.8" y1="396.6" x2="93" y2="465" stroke="#30a05e" stroke-width="1.2" opacity="1"/>
<line x1="48.4" y1="419.7" x2="93" y2="465" stroke="#30a05e" stroke-width="1.2" opacity="1"/>
<line x1="13.3" y1="430.6" x2="93" y2="465" stroke="#30a05e" stroke-width="1.2" opacity="1"/>
<line x1="28.4" y1="458" x2="93" y2="465" stroke="#30a05e" stroke-width="1.2" opacity="1"/>
<line x1="89.6" y1="394.8" x2="93" y2="465" stroke="#30a05e" stroke-width="1.2" opacity="1"/>
<line x1="107.7" y1="422.7" x2="93" y2="465" stroke="#30a05e" stroke-width="1.2" opacity="1"/>
<line x1="78" y1="437.6" x2="93" y2="465" stroke="#30a05e" stroke-width="1.2" opacity="1"/>
<line x1="54.7" y1="478.2" x2="93" y2="465" stroke="#30a05e" stroke-width="1.2" opacity="1"/>
<circle cx="61.7" cy="378.2" r="3.9" fill="#000" opacity="0.22"/>
<circle cx="61" cy="377.3" r="3.9" fill="url(#g1)" stroke="#4b595f" stroke-width="0.75"/>
<ellipse cx="60.805" cy="375.428" rx="2.652" ry="1.404" fill="#fff" opacity="0.3"/>
<circle cx="27.5" cy="397.5" r="7.8" fill="#000" opacity="0.22"/>
<circle cx="26.8" cy="396.6" r="7.8" fill="url(#g2)" stroke="#3b3f54" stroke-width="0.75"/>
<ellipse cx="26.41" cy="392.856" rx="5.304" ry="2.808" fill="#fff" opacity="0.3"/>
<circle cx="49.1" cy="420.59999999999997" r="7.8" fill="#000" opacity="0.22"/>
<circle cx="48.4" cy="419.7" r="7.8" fill="url(#g3)" stroke="#3f554d" stroke-width="0.75"/>
<circle cx="46.9" cy="420.2" r="0.55" fill="#d05050" opacity="0.7"/>
<circle cx="49.199999999999996" cy="421.3" r="0.55" fill="#50a050" opacity="0.7"/>
<circle cx="50.199999999999996" cy="419.5" r="0.55" fill="#d0b040" opacity="0.7"/>
<circle cx="48.1" cy="418.7" r="0.55" fill="#5070c0" opacity="0.7"/>
<circle cx="48.6" cy="422.3" r="0.55" fill="#c06090" opacity="0.7"/>
<circle cx="46.199999999999996" cy="421.7" r="0.55" fill="#60b0a0" opacity="0.7"/>
<ellipse cx="48.01" cy="415.956" rx="5.304" ry="2.808" fill="#fff" opacity="0.3"/>
<circle cx="14.0" cy="431.5" r="3.8" fill="#000" opacity="0.22"/>
<circle cx="13.3" cy="430.6" r="3.8" fill="url(#g4)" stroke="#475946" stroke-width="0.75"/>
<ellipse cx="13.110000000000001" cy="428.776" rx="2.584" ry="1.3679999999999999" fill="#fff" opacity="0.3"/>
<circle cx="29.099999999999998" cy="458.9" r="3.7" fill="#000" opacity="0.22"/>
<circle cx="28.4" cy="458" r="3.7" fill="url(#g5)" stroke="#4a5a4e" stroke-width="0.75"/>
<ellipse cx="28.215" cy="456.224" rx="2.5160000000000005" ry="1.332" fill="#fff" opacity="0.3"/>
<circle cx="90.3" cy="395.7" r="3.8" fill="#000" opacity="0.22"/>
<circle cx="89.6" cy="394.8" r="3.8" fill="url(#g6)" stroke="#535540" stroke-width="0.75"/>
<ellipse cx="89.41" cy="392.976" rx="2.584" ry="1.3679999999999999" fill="#fff" opacity="0.3"/>
<circle cx="108.4" cy="423.59999999999997" r="7.8" fill="#000" opacity="0.22"/>
<circle cx="107.7" cy="422.7" r="7.8" fill="url(#g7)" stroke="#4e5840" stroke-width="0.75"/>
<circle cx="106.2" cy="423.2" r="0.55" fill="#d05050" opacity="0.7"/>
<circle cx="108.5" cy="424.3" r="0.55" fill="#50a050" opacity="0.7"/>
<circle cx="109.5" cy="422.5" r="0.55" fill="#d0b040" opacity="0.7"/>
<circle cx="107.4" cy="421.7" r="0.55" fill="#5070c0" opacity="0.7"/>
<circle cx="107.9" cy="425.3" r="0.55" fill="#c06090" opacity="0.7"/>
<circle cx="105.5" cy="424.7" r="0.55" fill="#60b0a0" opacity="0.7"/>
<ellipse cx="107.31" cy="418.956" rx="5.304" ry="2.808" fill="#fff" opacity="0.3"/>
<circle cx="78.7" cy="438.5" r="3.6" fill="#000" opacity="0.22"/>
<circle cx="78" cy="437.6" r="3.6" fill="url(#g8)" stroke="#615449" stroke-width="0.75"/>
<ellipse cx="77.82" cy="435.872" rx="2.4480000000000004" ry="1.296" fill="#fff" opacity="0.3"/>
<circle cx="55.400000000000006" cy="479.09999999999997" r="3.6" fill="#000" opacity="0.22"/>
<circle cx="54.7" cy="478.2" r="3.6" fill="url(#g9)" stroke="#47495b" stroke-width="0.75"/>
<ellipse cx="54.52" cy="476.472" rx="2.4480000000000004" ry="1.296" fill="#fff" opacity="0.3"/>
<rect x="79.9" y="461.3" width="27.700000000000003" height="9.5" rx="3.6" fill="#000" opacity="0.25"/>
<rect x="79.2" y="460.2" width="27.700000000000003" height="9.5" rx="3.6" fill="url(#pill)" stroke="#6e3a2e" stroke-width="0.55"/>
<rect x="80.8" y="460.9" width="24.500000000000004" height="2.85" rx="1.425" fill="#fff" opacity="0.32"/>
<circle cx="148.89999999999998" cy="539.3" r="8.0" fill="#000" opacity="0.22"/>
<circle cx="148.2" cy="538.4" r="8.0" fill="url(#g11)" stroke="#5c4947" stroke-width="0.75"/>
<ellipse cx="147.79999999999998" cy="534.56" rx="5.44" ry="2.88" fill="#fff" opacity="0.3"/>
<text x="65" y="374.03799999999995" font-size="4.55" font-weight="normal" text-anchor="start" fill="#000" stroke="#fff" stroke-width="0.9" paint-order="stroke" stroke-opacity="0.75" stroke-linejoin="round">RSL24D1</text>
<text x="33.8" y="389.738" font-size="4.55" font-weight="normal" text-anchor="start" fill="#000" stroke="#fff" stroke-width="0.9" paint-order="stroke" stroke-opacity="0.75" stroke-linejoin="round">RPL3</text>
<text x="55.5" y="412.83799999999997" font-size="4.55" font-weight="normal" text-anchor="start" fill="#000" stroke="#fff" stroke-width="0.9" paint-order="stroke" stroke-opacity="0.75" stroke-linejoin="round">RPL13A</text>
<text x="17" y="427.83799999999997" font-size="4.55" font-weight="normal" text-anchor="start" fill="#000" stroke="#fff" stroke-width="0.9" paint-order="stroke" stroke-opacity="0.75" stroke-linejoin="round">RPL19</text>
<text x="31.8" y="455.938" font-size="4.55" font-weight="normal" text-anchor="start" fill="#000" stroke="#fff" stroke-width="0.9" paint-order="stroke" stroke-opacity="0.75" stroke-linejoin="round">RPL8</text>
<text x="93.3" y="391.03799999999995" font-size="4.55" font-weight="normal" text-anchor="start" fill="#000" stroke="#fff" stroke-width="0.9" paint-order="stroke" stroke-opacity="0.75" stroke-linejoin="round">RPL23</text>
<text x="114.5" y="415.938" font-size="4.55" font-weight="normal" text-anchor="start" fill="#000" stroke="#fff" stroke-width="0.9" paint-order="stroke" stroke-opacity="0.75" stroke-linejoin="round">RPL11</text>
<text x="80.9" y="433.83799999999997" font-size="4.55" font-weight="normal" text-anchor="start" fill="#000" stroke="#fff" stroke-width="0.9" paint-order="stroke" stroke-opacity="0.75" stroke-linejoin="round">RPL23A</text>
<text x="57.9" y="475.03799999999995" font-size="4.55" font-weight="normal" text-anchor="start" fill="#000" stroke="#fff" stroke-width="0.9" paint-order="stroke" stroke-opacity="0.75" stroke-linejoin="round">RPL26L1</text>
<text x="93.3" y="458.238" font-size="4.55" font-weight="normal" text-anchor="middle" fill="#000" stroke="#fff" stroke-width="0.9" paint-order="stroke" stroke-opacity="0.75" stroke-linejoin="round">puromycin</text>
<text x="155" y="532.038" font-size="4.55" font-weight="normal" text-anchor="start" fill="#000" stroke="#fff" stroke-width="0.9" paint-order="stroke" stroke-opacity="0.75" stroke-linejoin="round">FOS</text>
<text x="159.7" y="372" font-size="7" font-weight="bold" text-anchor="start" fill="#111" stroke="#111" stroke-width="0.042">f</text>
<line x1="178" y1="479" x2="226" y2="534" stroke="#30a05e" stroke-width="1.1" opacity="1"/>
<line x1="172" y1="388.6" x2="203.9" y2="382.2" stroke="#2b3a68" stroke-width="1.3" opacity="1"/>
<line x1="172" y1="388.6" x2="151.9" y2="412.9" stroke="#2b3a68" stroke-width="1.3" opacity="1"/>
<line x1="172" y1="388.6" x2="156.4" y2="443.3" stroke="#2b3a68" stroke-width="1.3" opacity="1"/>
<line x1="172" y1="388.6" x2="201.2" y2="428.8" stroke="#2b3a68" stroke-width="1.3" opacity="1"/>
<line x1="172" y1="388.6" x2="233.8" y2="396" stroke="#2b3a68" stroke-width="1.3" opacity="1"/>
<line x1="172" y1="388.6" x2="247" y2="427.4" stroke="#2b3a68" stroke-width="1.3" opacity="1"/>
<line x1="172" y1="388.6" x2="238.1" y2="458.5" stroke="#2b3a68" stroke-width="1.3" opacity="1"/>
<line x1="172" y1="388.6" x2="209" y2="474.4" stroke="#2b3a68" stroke-width="1.3" opacity="1"/>
<line x1="203.9" y1="382.2" x2="151.9" y2="412.9" stroke="#2b3a68" stroke-width="1.3" opacity="1"/>
<line x1="203.9" y1="382.2" x2="156.4" y2="443.3" stroke="#2b3a68" stroke-width="1.3" opacity="1"/>
<line x1="203.9" y1="382.2" x2="201.2" y2="428.8" stroke="#2b3a68" stroke-width="1.3" opacity="1"/>
<line x1="203.9" y1="382.2" x2="233.8" y2="396" stroke="#2b3a68" stroke-width="1.3" opacity="1"/>
<line x1="203.9" y1="382.2" x2="247" y2="427.4" stroke="#2b3a68" stroke-width="1.3" opacity="1"/>
<line x1="203.9" y1="382.2" x2="238.1" y2="458.5" stroke="#2b3a68" stroke-width="1.3" opacity="1"/>
<line x1="203.9" y1="382.2" x2="209" y2="474.4" stroke="#2b3a68" stroke-width="1.3" opacity="1"/>
<line x1="151.9" y1="412.9" x2="156.4" y2="443.3" stroke="#2b3a68" stroke-width="1.3" opacity="1"/>
<line x1="151.9" y1="412.9" x2="201.2" y2="428.8" stroke="#2b3a68" stroke-width="1.3" opacity="1"/>
<line x1="151.9" y1="412.9" x2="233.8" y2="396" stroke="#2b3a68" stroke-width="1.3" opacity="1"/>
<line x1="151.9" y1="412.9" x2="247" y2="427.4" stroke="#2b3a68" stroke-width="1.3" opacity="1"/>
<line x1="151.9" y1="412.9" x2="238.1" y2="458.5" stroke="#2b3a68" stroke-width="1.3" opacity="1"/>
<line x1="151.9" y1="412.9" x2="209" y2="474.4" stroke="#2b3a68" stroke-width="1.3" opacity="1"/>
<line x1="156.4" y1="443.3" x2="201.2" y2="428.8" stroke="#2b3a68" stroke-width="1.3" opacity="1"/>
<line x1="156.4" y1="443.3" x2="233.8" y2="396" stroke="#2b3a68" stroke-width="1.3" opacity="1"/>
<line x1="156.4" y1="443.3" x2="247" y2="427.4" stroke="#2b3a68" stroke-width="1.3" opacity="1"/>
<line x1="156.4" y1="443.3" x2="238.1" y2="458.5" stroke="#2b3a68" stroke-width="1.3" opacity="1"/>
<line x1="156.4" y1="443.3" x2="209" y2="474.4" stroke="#2b3a68" stroke-width="1.3" opacity="1"/>
<line x1="201.2" y1="428.8" x2="233.8" y2="396" stroke="#2b3a68" stroke-width="1.3" opacity="1"/>
<line x1="201.2" y1="428.8" x2="247" y2="427.4" stroke="#2b3a68" stroke-width="1.3" opacity="1"/>
<line x1="201.2" y1="428.8" x2="238.1" y2="458.5" stroke="#2b3a68" stroke-width="1.3" opacity="1"/>
<line x1="201.2" y1="428.8" x2="209" y2="474.4" stroke="#2b3a68" stroke-width="1.3" opacity="1"/>
<line x1="233.8" y1="396" x2="247" y2="427.4" stroke="#2b3a68" stroke-width="1.3" opacity="1"/>
<line x1="233.8" y1="396" x2="238.1" y2="458.5" stroke="#2b3a68" stroke-width="1.3" opacity="1"/>
<line x1="233.8" y1="396" x2="209" y2="474.4" stroke="#2b3a68" stroke-width="1.3" opacity="1"/>
<line x1="247" y1="427.4" x2="238.1" y2="458.5" stroke="#2b3a68" stroke-width="1.3" opacity="1"/>
<line x1="247" y1="427.4" x2="209" y2="474.4" stroke="#2b3a68" stroke-width="1.3" opacity="1"/>
<line x1="238.1" y1="458.5" x2="209" y2="474.4" stroke="#2b3a68" stroke-width="1.3" opacity="1"/>
<line x1="172" y1="388.6" x2="173" y2="474" stroke="#30a05e" stroke-width="1.2" opacity="1"/>
<line x1="203.9" y1="382.2" x2="173" y2="474" stroke="#30a05e" stroke-width="1.2" opacity="1"/>
<line x1="151.9" y1="412.9" x2="173" y2="474" stroke="#30a05e" stroke-width="1.2" opacity="1"/>
<line x1="156.4" y1="443.3" x2="173" y2="474" stroke="#30a05e" stroke-width="1.2" opacity="1"/>
<line x1="201.2" y1="428.8" x2="173" y2="474" stroke="#30a05e" stroke-width="1.2" opacity="1"/>
<line x1="233.8" y1="396" x2="173" y2="474" stroke="#30a05e" stroke-width="1.2" opacity="1"/>
<line x1="247" y1="427.4" x2="173" y2="474" stroke="#30a05e" stroke-width="1.2" opacity="1"/>
<line x1="238.1" y1="458.5" x2="173" y2="474" stroke="#30a05e" stroke-width="1.2" opacity="1"/>
<line x1="209" y1="474.4" x2="173" y2="474" stroke="#30a05e" stroke-width="1.2" opacity="1"/>
<circle cx="172.7" cy="389.5" r="7.9" fill="#000" opacity="0.22"/>
<circle cx="172" cy="388.6" r="7.9" fill="url(#g12)" stroke="#5e4b49" stroke-width="0.75"/>
<ellipse cx="171.605" cy="384.80800000000005" rx="5.372000000000001" ry="2.844" fill="#fff" opacity="0.3"/>
<circle cx="204.6" cy="383.09999999999997" r="3.8" fill="#000" opacity="0.22"/>
<circle cx="203.9" cy="382.2" r="3.8" fill="url(#g13)" stroke="#43554f" stroke-width="0.75"/>
<ellipse cx="203.71" cy="380.376" rx="2.584" ry="1.3679999999999999" fill="#fff" opacity="0.3"/>
<circle cx="152.6" cy="413.79999999999995" r="7.9" fill="#000" opacity="0.22"/>
<circle cx="151.9" cy="412.9" r="7.9" fill="url(#g14)" stroke="#45565e" stroke-width="0.75"/>
<circle cx="150.4" cy="413.4" r="0.55" fill="#d05050" opacity="0.7"/>
<circle cx="152.70000000000002" cy="414.5" r="0.55" fill="#50a050" opacity="0.7"/>
<circle cx="153.70000000000002" cy="412.7" r="0.55" fill="#d0b040" opacity="0.7"/>
<circle cx="151.6" cy="411.9" r="0.55" fill="#5070c0" opacity="0.7"/>
<circle cx="152.1" cy="415.5" r="0.55" fill="#c06090" opacity="0.7"/>
<circle cx="149.70000000000002" cy="414.9" r="0.55" fill="#60b0a0" opacity="0.7"/>
<ellipse cx="151.505" cy="409.108" rx="5.372000000000001" ry="2.844" fill="#fff" opacity="0.3"/>
<circle cx="157.1" cy="444.2" r="7.9" fill="#000" opacity="0.22"/>
<circle cx="156.4" cy="443.3" r="7.9" fill="url(#g15)" stroke="#435548" stroke-width="0.75"/>
<circle cx="154.9" cy="443.8" r="0.55" fill="#d05050" opacity="0.7"/>
<circle cx="157.20000000000002" cy="444.90000000000003" r="0.55" fill="#50a050" opacity="0.7"/>
<circle cx="158.20000000000002" cy="443.1" r="0.55" fill="#d0b040" opacity="0.7"/>
<circle cx="156.1" cy="442.3" r="0.55" fill="#5070c0" opacity="0.7"/>
<circle cx="156.6" cy="445.90000000000003" r="0.55" fill="#c06090" opacity="0.7"/>
<circle cx="154.20000000000002" cy="445.3" r="0.55" fill="#60b0a0" opacity="0.7"/>
<ellipse cx="156.005" cy="439.50800000000004" rx="5.372000000000001" ry="2.844" fill="#fff" opacity="0.3"/>
<circle cx="201.89999999999998" cy="429.7" r="3.7" fill="#000" opacity="0.22"/>
<circle cx="201.2" cy="428.8" r="3.7" fill="url(#g16)" stroke="#545944" stroke-width="0.75"/>
<ellipse cx="201.015" cy="427.024" rx="2.5160000000000005" ry="1.332" fill="#fff" opacity="0.3"/>
<circle cx="234.5" cy="396.9" r="3.8" fill="#000" opacity="0.22"/>
<circle cx="233.8" cy="396" r="3.8" fill="url(#g17)" stroke="#455948" stroke-width="0.75"/>
<ellipse cx="233.61" cy="394.176" rx="2.584" ry="1.3679999999999999" fill="#fff" opacity="0.3"/>
<circle cx="247.7" cy="428.29999999999995" r="8.0" fill="#000" opacity="0.22"/>
<circle cx="247" cy="427.4" r="8.0" fill="url(#g18)" stroke="#52523c" stroke-width="0.75"/>
<circle cx="245.5" cy="427.9" r="0.55" fill="#d05050" opacity="0.7"/>
<circle cx="247.8" cy="429.0" r="0.55" fill="#50a050" opacity="0.7"/>
<circle cx="248.8" cy="427.2" r="0.55" fill="#d0b040" opacity="0.7"/>
<circle cx="246.7" cy="426.4" r="0.55" fill="#5070c0" opacity="0.7"/>
<circle cx="247.2" cy="430.0" r="0.55" fill="#c06090" opacity="0.7"/>
<circle cx="244.8" cy="429.4" r="0.55" fill="#60b0a0" opacity="0.7"/>
<ellipse cx="246.6" cy="423.56" rx="5.44" ry="2.88" fill="#fff" opacity="0.3"/>
<circle cx="238.79999999999998" cy="459.4" r="3.7" fill="#000" opacity="0.22"/>
<circle cx="238.1" cy="458.5" r="3.7" fill="url(#g19)" stroke="#3f4154" stroke-width="0.75"/>
<ellipse cx="237.915" cy="456.724" rx="2.5160000000000005" ry="1.332" fill="#fff" opacity="0.3"/>
<circle cx="209.7" cy="475.29999999999995" r="3.8" fill="#000" opacity="0.22"/>
<circle cx="209" cy="474.4" r="3.8" fill="url(#g20)" stroke="#424458" stroke-width="0.75"/>
<ellipse cx="208.81" cy="472.57599999999996" rx="2.584" ry="1.3679999999999999" fill="#fff" opacity="0.3"/>
<rect x="158.89999999999998" y="469.3" width="30.100000000000023" height="12.199999999999989" rx="5.2" fill="#000" opacity="0.25"/>
<rect x="158.2" y="468.2" width="30.100000000000023" height="12.199999999999989" rx="5.2" fill="url(#pill)" stroke="#6e3a2e" stroke-width="0.55"/>
<rect x="159.79999999999998" y="468.9" width="26.900000000000023" height="3.6599999999999966" rx="1.8299999999999983" fill="#fff" opacity="0.32"/>
<circle cx="173.25" cy="474.9" r="1.1" fill="none" stroke="#f6d8d0" stroke-width="0.35" opacity="0.9"/>
<circle cx="229.29999999999998" cy="539.6" r="8.0" fill="#000" opacity="0.22"/>
<circle cx="228.6" cy="538.7" r="8.0" fill="url(#g21)" stroke="#594d41" stroke-width="0.75"/>
<ellipse cx="228.2" cy="534.86" rx="5.44" ry="2.88" fill="#fff" opacity="0.3"/>
<text x="180.2" y="380.83799999999997" font-size="4.55" font-weight="normal" text-anchor="start" fill="#000" stroke="#fff" stroke-width="0.9" paint-order="stroke" stroke-opacity="0.75" stroke-linejoin="round">RPL3</text>
<text x="208.5" y="378.438" font-size="4.55" font-weight="normal" text-anchor="start" fill="#000" stroke="#fff" stroke-width="0.9" paint-order="stroke" stroke-opacity="0.75" stroke-linejoin="round">RPL19</text>
<text x="158.5" y="405.638" font-size="4.55" font-weight="normal" text-anchor="start" fill="#000" stroke="#fff" stroke-width="0.9" paint-order="stroke" stroke-opacity="0.75" stroke-linejoin="round">RPL13A</text>
<text x="163.5" y="436.138" font-size="4.55" font-weight="normal" text-anchor="start" fill="#000" stroke="#fff" stroke-width="0.9" paint-order="stroke" stroke-opacity="0.75" stroke-linejoin="round">RPL15</text>
<text x="204.5" y="425.83799999999997" font-size="4.55" font-weight="normal" text-anchor="start" fill="#000" stroke="#fff" stroke-width="0.9" paint-order="stroke" stroke-opacity="0.75" stroke-linejoin="round">RPL23A</text>
<text x="238.5" y="392.638" font-size="4.55" font-weight="normal" text-anchor="start" fill="#000" stroke="#fff" stroke-width="0.9" paint-order="stroke" stroke-opacity="0.75" stroke-linejoin="round">RPL23</text>
<text x="254.5" y="420.138" font-size="4.55" font-weight="normal" text-anchor="start" fill="#000" stroke="#fff" stroke-width="0.9" paint-order="stroke" stroke-opacity="0.75" stroke-linejoin="round">RPL11</text>
<text x="241.8" y="456.638" font-size="4.55" font-weight="normal" text-anchor="start" fill="#000" stroke="#fff" stroke-width="0.9" paint-order="stroke" stroke-opacity="0.75" stroke-linejoin="round">RPL8</text>
<text x="212.5" y="471.638" font-size="4.55" font-weight="normal" text-anchor="start" fill="#000" stroke="#fff" stroke-width="0.9" paint-order="stroke" stroke-opacity="0.75" stroke-linejoin="round">RSL24D1</text>
<text x="173" y="466.90999999999997" font-size="4.75" font-weight="normal" text-anchor="middle" fill="#000" stroke="#fff" stroke-width="0.9" paint-order="stroke" stroke-opacity="0.75" stroke-linejoin="round">3-phenyllactic:</text>
<text x="237" y="531.138" font-size="4.55" font-weight="normal" text-anchor="start" fill="#000" stroke="#fff" stroke-width="0.9" paint-order="stroke" stroke-opacity="0.75" stroke-linejoin="round">CPA1</text>
<text x="275.7" y="372.3" font-size="7" font-weight="bold" text-anchor="start" fill="#111" stroke="#111" stroke-width="0.042">g</text>
<line x1="328.5" y1="377.4" x2="298.4" y2="391" stroke="#2b3a68" stroke-width="1.3" opacity="1"/>
<line x1="328.5" y1="377.4" x2="313.6" y2="416.5" stroke="#2b3a68" stroke-width="1.3" opacity="1"/>
<line x1="328.5" y1="377.4" x2="287" y2="429.5" stroke="#2b3a68" stroke-width="1.3" opacity="1"/>
<line x1="328.5" y1="377.4" x2="303.8" y2="456.4" stroke="#2b3a68" stroke-width="1.3" opacity="1"/>
<line x1="328.5" y1="377.4" x2="329.9" y2="468.8" stroke="#2b3a68" stroke-width="1.3" opacity="1"/>
<line x1="328.5" y1="377.4" x2="358" y2="383.8" stroke="#2b3a68" stroke-width="1.3" opacity="1"/>
<line x1="328.5" y1="377.4" x2="379.7" y2="408.8" stroke="#2b3a68" stroke-width="1.3" opacity="1"/>
<line x1="328.5" y1="377.4" x2="346.8" y2="421.2" stroke="#2b3a68" stroke-width="1.3" opacity="1"/>
<line x1="328.5" y1="377.4" x2="357" y2="462.6" stroke="#2b3a68" stroke-width="1.3" opacity="1"/>
<line x1="298.4" y1="391" x2="313.6" y2="416.5" stroke="#2b3a68" stroke-width="1.3" opacity="1"/>
<line x1="298.4" y1="391" x2="287" y2="429.5" stroke="#2b3a68" stroke-width="1.3" opacity="1"/>
<line x1="298.4" y1="391" x2="303.8" y2="456.4" stroke="#2b3a68" stroke-width="1.3" opacity="1"/>
<line x1="298.4" y1="391" x2="329.9" y2="468.8" stroke="#2b3a68" stroke-width="1.3" opacity="1"/>
<line x1="298.4" y1="391" x2="358" y2="383.8" stroke="#2b3a68" stroke-width="1.3" opacity="1"/>
<line x1="298.4" y1="391" x2="379.7" y2="408.8" stroke="#2b3a68" stroke-width="1.3" opacity="1"/>
<line x1="298.4" y1="391" x2="346.8" y2="421.2" stroke="#2b3a68" stroke-width="1.3" opacity="1"/>
<line x1="298.4" y1="391" x2="357" y2="462.6" stroke="#2b3a68" stroke-width="1.3" opacity="1"/>
<line x1="313.6" y1="416.5" x2="287" y2="429.5" stroke="#2b3a68" stroke-width="1.3" opacity="1"/>
<line x1="313.6" y1="416.5" x2="303.8" y2="456.4" stroke="#2b3a68" stroke-width="1.3" opacity="1"/>
<line x1="313.6" y1="416.5" x2="329.9" y2="468.8" stroke="#2b3a68" stroke-width="1.3" opacity="1"/>
<line x1="313.6" y1="416.5" x2="358" y2="383.8" stroke="#2b3a68" stroke-width="1.3" opacity="1"/>
<line x1="313.6" y1="416.5" x2="379.7" y2="408.8" stroke="#2b3a68" stroke-width="1.3" opacity="1"/>
<line x1="313.6" y1="416.5" x2="346.8" y2="421.2" stroke="#2b3a68" stroke-width="1.3" opacity="1"/>
<line x1="313.6" y1="416.5" x2="357" y2="462.6" stroke="#2b3a68" stroke-width="1.3" opacity="1"/>
<line x1="287" y1="429.5" x2="303.8" y2="456.4" stroke="#2b3a68" stroke-width="1.3" opacity="1"/>
<line x1="287" y1="429.5" x2="329.9" y2="468.8" stroke="#2b3a68" stroke-width="1.3" opacity="1"/>
<line x1="287" y1="429.5" x2="358" y2="383.8" stroke="#2b3a68" stroke-width="1.3" opacity="1"/>
<line x1="287" y1="429.5" x2="379.7" y2="408.8" stroke="#2b3a68" stroke-width="1.3" opacity="1"/>
<line x1="287" y1="429.5" x2="346.8" y2="421.2" stroke="#2b3a68" stroke-width="1.3" opacity="1"/>
<line x1="287" y1="429.5" x2="357" y2="462.6" stroke="#2b3a68" stroke-width="1.3" opacity="1"/>
<line x1="303.8" y1="456.4" x2="329.9" y2="468.8" stroke="#2b3a68" stroke-width="1.3" opacity="1"/>
<line x1="303.8" y1="456.4" x2="358" y2="383.8" stroke="#2b3a68" stroke-width="1.3" opacity="1"/>
<line x1="303.8" y1="456.4" x2="379.7" y2="408.8" stroke="#2b3a68" stroke-width="1.3" opacity="1"/>
<line x1="303.8" y1="456.4" x2="346.8" y2="421.2" stroke="#2b3a68" stroke-width="1.3" opacity="1"/>
<line x1="303.8" y1="456.4" x2="357" y2="462.6" stroke="#2b3a68" stroke-width="1.3" opacity="1"/>
<line x1="329.9" y1="468.8" x2="358" y2="383.8" stroke="#2b3a68" stroke-width="1.3" opacity="1"/>
<line x1="329.9" y1="468.8" x2="379.7" y2="408.8" stroke="#2b3a68" stroke-width="1.3" opacity="1"/>
<line x1="329.9" y1="468.8" x2="346.8" y2="421.2" stroke="#2b3a68" stroke-width="1.3" opacity="1"/>
<line x1="329.9" y1="468.8" x2="357" y2="462.6" stroke="#2b3a68" stroke-width="1.3" opacity="1"/>
<line x1="358" y1="383.8" x2="379.7" y2="408.8" stroke="#2b3a68" stroke-width="1.3" opacity="1"/>
<line x1="358" y1="383.8" x2="346.8" y2="421.2" stroke="#2b3a68" stroke-width="1.3" opacity="1"/>
<line x1="358" y1="383.8" x2="357" y2="462.6" stroke="#2b3a68" stroke-width="1.3" opacity="1"/>
<line x1="379.7" y1="408.8" x2="346.8" y2="421.2" stroke="#2b3a68" stroke-width="1.3" opacity="1"/>
<line x1="379.7" y1="408.8" x2="357" y2="462.6" stroke="#2b3a68" stroke-width="1.3" opacity="1"/>
<line x1="346.8" y1="421.2" x2="357" y2="462.6" stroke="#2b3a68" stroke-width="1.3" opacity="1"/>
<line x1="328.5" y1="377.4" x2="378" y2="441.5" stroke="#8fd4a8" stroke-width="1.2" opacity="1"/>
<line x1="298.4" y1="391" x2="378" y2="441.5" stroke="#30a05e" stroke-width="1.2" opacity="1"/>
<line x1="313.6" y1="416.5" x2="378" y2="441.5" stroke="#30a05e" stroke-width="1.2" opacity="1"/>
<line x1="287" y1="429.5" x2="378" y2="441.5" stroke="#8fd4a8" stroke-width="1.2" opacity="1"/>
<line x1="303.8" y1="456.4" x2="378" y2="441.5" stroke="#8fd4a8" stroke-width="1.2" opacity="1"/>
<line x1="329.9" y1="468.8" x2="378" y2="441.5" stroke="#30a05e" stroke-width="1.2" opacity="1"/>
<line x1="358" y1="383.8" x2="378" y2="441.5" stroke="#8fd4a8" stroke-width="1.2" opacity="1"/>
<line x1="379.7" y1="408.8" x2="378" y2="441.5" stroke="#30a05e" stroke-width="1.2" opacity="1"/>
<line x1="346.8" y1="421.2" x2="378" y2="441.5" stroke="#8fd4a8" stroke-width="1.2" opacity="1"/>
<line x1="357" y1="462.6" x2="378" y2="441.5" stroke="#30a05e" stroke-width="1.2" opacity="1"/>
<circle cx="329.2" cy="378.29999999999995" r="3.6" fill="#000" opacity="0.22"/>
<circle cx="328.5" cy="377.4" r="3.6" fill="url(#g22)" stroke="#624e4a" stroke-width="0.75"/>
<ellipse cx="328.32" cy="375.67199999999997" rx="2.4480000000000004" ry="1.296" fill="#fff" opacity="0.3"/>
<circle cx="299.09999999999997" cy="391.9" r="7.7" fill="#000" opacity="0.22"/>
<circle cx="298.4" cy="391" r="7.7" fill="url(#g23)" stroke="#3d554f" stroke-width="0.75"/>
<circle cx="296.9" cy="391.5" r="0.55" fill="#d05050" opacity="0.7"/>
<circle cx="299.2" cy="392.6" r="0.55" fill="#50a050" opacity="0.7"/>
<circle cx="300.2" cy="390.8" r="0.55" fill="#d0b040" opacity="0.7"/>
<circle cx="298.09999999999997" cy="390.0" r="0.55" fill="#5070c0" opacity="0.7"/>
<circle cx="298.59999999999997" cy="393.6" r="0.55" fill="#c06090" opacity="0.7"/>
<circle cx="296.2" cy="393.0" r="0.55" fill="#60b0a0" opacity="0.7"/>
<ellipse cx="298.015" cy="387.304" rx="5.236000000000001" ry="2.772" fill="#fff" opacity="0.3"/>
<circle cx="314.3" cy="417.4" r="3.8" fill="#000" opacity="0.22"/>
<circle cx="313.6" cy="416.5" r="3.8" fill="url(#g24)" stroke="#45553d" stroke-width="0.75"/>
<ellipse cx="313.41" cy="414.676" rx="2.584" ry="1.3679999999999999" fill="#fff" opacity="0.3"/>
<circle cx="287.7" cy="430.4" r="7.9" fill="#000" opacity="0.22"/>
<circle cx="287" cy="429.5" r="7.9" fill="url(#g25)" stroke="#5c5043" stroke-width="0.75"/>
<circle cx="285.5" cy="430.0" r="0.55" fill="#d05050" opacity="0.7"/>
<circle cx="287.8" cy="431.1" r="0.55" fill="#50a050" opacity="0.7"/>
<circle cx="288.8" cy="429.3" r="0.55" fill="#d0b040" opacity="0.7"/>
<circle cx="286.7" cy="428.5" r="0.55" fill="#5070c0" opacity="0.7"/>
<circle cx="287.2" cy="432.1" r="0.55" fill="#c06090" opacity="0.7"/>
<circle cx="284.8" cy="431.5" r="0.55" fill="#60b0a0" opacity="0.7"/>
<ellipse cx="286.605" cy="425.708" rx="5.372000000000001" ry="2.844" fill="#fff" opacity="0.3"/>
<circle cx="304.5" cy="457.29999999999995" r="3.6" fill="#000" opacity="0.22"/>
<circle cx="303.8" cy="456.4" r="3.6" fill="url(#g26)" stroke="#48595f" stroke-width="0.75"/>
<ellipse cx="303.62" cy="454.67199999999997" rx="2.4480000000000004" ry="1.296" fill="#fff" opacity="0.3"/>
<circle cx="330.59999999999997" cy="469.7" r="7.8" fill="#000" opacity="0.22"/>
<circle cx="329.9" cy="468.8" r="7.8" fill="url(#g27)" stroke="#434555" stroke-width="0.75"/>
<ellipse cx="329.51" cy="465.05600000000004" rx="5.304" ry="2.808" fill="#fff" opacity="0.3"/>
<circle cx="358.7" cy="384.7" r="3.6" fill="#000" opacity="0.22"/>
<circle cx="358" cy="383.8" r="3.6" fill="url(#g28)" stroke="#555b47" stroke-width="0.75"/>
<ellipse cx="357.82" cy="382.072" rx="2.4480000000000004" ry="1.296" fill="#fff" opacity="0.3"/>
<circle cx="380.4" cy="409.7" r="7.7" fill="#000" opacity="0.22"/>
<circle cx="379.7" cy="408.8" r="7.7" fill="url(#g29)" stroke="#475a4a" stroke-width="0.75"/>
<circle cx="378.2" cy="409.3" r="0.55" fill="#d05050" opacity="0.7"/>
<circle cx="380.5" cy="410.40000000000003" r="0.55" fill="#50a050" opacity="0.7"/>
<circle cx="381.5" cy="408.6" r="0.55" fill="#d0b040" opacity="0.7"/>
<circle cx="379.4" cy="407.8" r="0.55" fill="#5070c0" opacity="0.7"/>
<circle cx="379.9" cy="411.40000000000003" r="0.55" fill="#c06090" opacity="0.7"/>
<circle cx="377.5" cy="410.8" r="0.55" fill="#60b0a0" opacity="0.7"/>
<ellipse cx="379.315" cy="405.104" rx="5.236000000000001" ry="2.772" fill="#fff" opacity="0.3"/>
<circle cx="347.5" cy="422.09999999999997" r="3.6" fill="#000" opacity="0.22"/>
<circle cx="346.8" cy="421.2" r="3.6" fill="url(#g30)" stroke="#55553c" stroke-width="0.75"/>
<ellipse cx="346.62" cy="419.472" rx="2.4480000000000004" ry="1.296" fill="#fff" opacity="0.3"/>
<circle cx="357.7" cy="463.5" r="7.8" fill="#000" opacity="0.22"/>
<circle cx="357" cy="462.6" r="7.8" fill="url(#g31)" stroke="#3c3f53" stroke-width="0.75"/>
<ellipse cx="356.61" cy="458.856" rx="5.304" ry="2.808" fill="#fff" opacity="0.3"/>
<rect x="364.7" y="437.20000000000005" width="28" height="10.899999999999977" rx="5.2" fill="#000" opacity="0.25"/>
<rect x="364" y="436.1" width="28" height="10.899999999999977" rx="5.2" fill="url(#pill)" stroke="#6e3a2e" stroke-width="0.55"/>
<rect x="365.6" y="436.8" width="24.8" height="3.269999999999993" rx="1.6349999999999965" fill="#fff" opacity="0.32"/>
<text x="332" y="374.138" font-size="4.55" font-weight="normal" text-anchor="start" fill="#000" stroke="#fff" stroke-width="0.9" paint-order="stroke" stroke-opacity="0.75" stroke-linejoin="round">RPL21</text>
<text x="306" y="383.638" font-size="4.55" font-weight="normal" text-anchor="start" fill="#000" stroke="#fff" stroke-width="0.9" paint-order="stroke" stroke-opacity="0.75" stroke-linejoin="round">RPL32</text>
<text x="316.5" y="413.438" font-size="4.55" font-weight="normal" text-anchor="start" fill="#000" stroke="#fff" stroke-width="0.9" paint-order="stroke" stroke-opacity="0.75" stroke-linejoin="round">RPL23A</text>
<text x="294" y="422.638" font-size="4.55" font-weight="normal" text-anchor="start" fill="#000" stroke="#fff" stroke-width="0.9" paint-order="stroke" stroke-opacity="0.75" stroke-linejoin="round">RPL4</text>
<text x="307" y="453.638" font-size="4.55" font-weight="normal" text-anchor="start" fill="#000" stroke="#fff" stroke-width="0.9" paint-order="stroke" stroke-opacity="0.75" stroke-linejoin="round">RPL23</text>
<text x="337" y="462.138" font-size="4.55" font-weight="normal" text-anchor="start" fill="#000" stroke="#fff" stroke-width="0.9" paint-order="stroke" stroke-opacity="0.75" stroke-linejoin="round">RPL5</text>
<text x="362" y="380.638" font-size="4.55" font-weight="normal" text-anchor="start" fill="#000" stroke="#fff" stroke-width="0.9" paint-order="stroke" stroke-opacity="0.75" stroke-linejoin="round">RPL37A</text>
<text x="386" y="402.138" font-size="4.55" font-weight="normal" text-anchor="start" fill="#000" stroke="#fff" stroke-width="0.9" paint-order="stroke" stroke-opacity="0.75" stroke-linejoin="round">RPL31</text>
<text x="350" y="418.438" font-size="4.55" font-weight="normal" text-anchor="start" fill="#000" stroke="#fff" stroke-width="0.9" paint-order="stroke" stroke-opacity="0.75" stroke-linejoin="round">RPL18</text>
<text x="363.5" y="456.138" font-size="4.55" font-weight="normal" text-anchor="start" fill="#000" stroke="#fff" stroke-width="0.9" paint-order="stroke" stroke-opacity="0.75" stroke-linejoin="round">RPL11</text>
<text x="377.5" y="434.494" font-size="4.15" font-weight="normal" text-anchor="middle" fill="#000" stroke="#fff" stroke-width="0.9" paint-order="stroke" stroke-opacity="0.75" stroke-linejoin="round">linezolid</text>
</svg>
</body></html>
